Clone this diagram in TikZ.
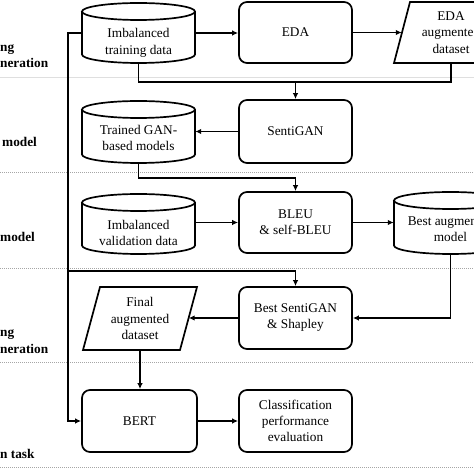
\documentclass[tikz,border=0pt]{standalone}
\usepackage{fontspec}
\setmainfont{Liberation Serif}
\usetikzlibrary{arrows.meta,calc}
\tikzset{
  boxline/.style={line width=1.7pt,draw=black,fill=white},
  rbox/.style={boxline,rounded corners=8pt,minimum width=113pt,minimum height=62pt,inner sep=0pt,align=center,font=\fontsize{13.3}{16}\selectfont},
  plainbox/.style={draw=none,inner sep=0pt,minimum width=113pt,minimum height=60pt},
  txt/.style={inner sep=0pt,align=center,font=\fontsize{13.3}{16.5}\selectfont},
  sidelbl/.style={inner sep=0pt,anchor=base west,font=\fontsize{13.3}{16}\selectfont\bfseries},
  conn/.style={line width=1.4pt,draw=black},
  arr/.style={conn,-{Latex[length=6pt,width=5.5pt]}},
  sep/.style={draw=gray!70,line width=0.6pt,dash pattern=on 1pt off 1pt},
}
\newcommand\mycyl[2]{% name, half height
  \draw[boxline] ([shift={(-56.5,#2-8.5)}]#1.center) -- ([shift={(-56.5,-#2+8.5)}]#1.center)
    arc[start angle=180,end angle=360,x radius=56.5,y radius=8.5]
    -- ([shift={(56.5,#2-8.5)}]#1.center)
    arc[start angle=0,end angle=180,x radius=56.5,y radius=8.5]
    arc[start angle=180,end angle=360,x radius=56.5,y radius=8.5];}
\newcommand\mypara[4]{% name, half width, half height, slant
  \draw[boxline] ([shift={(-#2+#4,#3)}]#1.center) -- ([shift={(#2+#4,#3)}]#1.center)
    -- ([shift={(#2-#4,-#3)}]#1.center) -- ([shift={(-#2-#4,-#3)}]#1.center) -- cycle;}
\begin{document}
\begin{tikzpicture}[x=1pt,y=1pt]
\clip (0,0) rectangle (474,474);
\fill[white] (0,0) rectangle (474,474);
% separators
\draw[draw=gray!25,line width=0.6pt] (0,397) -- (474,397);
\draw[sep] (0,302) -- (474,302);
\draw[sep] (0,206) -- (474,206);
\draw[sep] (0,112) -- (474,112);
\draw[sep] (0,7) -- (474,7);
% side labels
\node[sidelbl] (l1a) at (0,422) {ng};
\node[sidelbl] (l1b) at (0,406) {neration};
\node[sidelbl] (l2) at (2,327) {model};
\node[sidelbl] (l3) at (0,232) {model};
\node[sidelbl] (l4a) at (0,137) {ng};
\node[sidelbl] (l4b) at (0,120) {neration};
\node[sidelbl] (l5) at (0,16) {n task};
% row 1
\node[plainbox] (itd) at (138.5,441) {};
\mycyl{itd}{30}
\node[txt] (itdt) at ([yshift=-10]itd.center) {Imbalanced\\training data};
\node[rbox,minimum height=61pt] (eda) at (295.5,441.5) {EDA};
\node[plainbox,minimum width=98pt,minimum height=61pt] (edaaug) at (451,441.5) {};
\mypara{edaaug}{49}{30.5}{8}
\node[txt] (edaaugt) at (edaaug.center) {EDA\\augmented\\dataset};
% row 2
\node[rbox,minimum height=63pt] (sgan) at (295.5,342.5) {SentiGAN};
\node[plainbox,minimum height=62pt] (tgan) at (138.5,342) {};
\mycyl{tgan}{31}
\node[txt] (tgant) at ([yshift=-6]tgan.center) {Trained GAN-\\based models};
% row 3
\node[rbox,minimum height=61pt] (bleu) at (295.5,251.5) {BLEU\\\& self-BLEU};
\node[plainbox] (val) at (138.5,250) {};
\mycyl{val}{30}
\node[txt] (valt) at ([yshift=-9]val.center) {Imbalanced\\validation data};
\node[plainbox,minimum height=62pt] (bestaug) at (450.5,251) {};
\mycyl{bestaug}{31}
\node[txt] (bestaugt) at ([yshift=-6]bestaug.center) {Best augmented\\model};
% row 4
\node[rbox] (bsg) at (295.5,156) {Best SentiGAN\\\& Shapley};
\node[plainbox,minimum width=97pt,minimum height=63pt] (final) at (140,155.5) {};
\mypara{final}{48.5}{31.5}{8.5}
\node[txt] (finalt) at (final.center) {Final\\augmented\\dataset};
% row 5
\node[rbox,minimum width=115pt] (bert) at (139.5,53) {BERT};
\node[rbox] (cls) at (295.5,53) {Classification\\performance\\evaluation};
% connectors
\coordinate (vl) at (68,0);
\coordinate (m1) at (295.5,392);
\coordinate (m2) at (295.5,296);
\coordinate (m4) at (295.5,203);
\draw[arr] (itd.east) -- (itd.east -| eda.west);
\draw[arr] (eda.east) -- (eda.east -| edaaug.west);
\draw[conn] (itd.south) |- (m1);
\draw[conn] (edaaug.south) |- (m1);
\draw[arr] (m1) -- (sgan.north);
\draw[arr] (sgan.west) -- (sgan.west -| tgan.east);
\draw[conn] (tgan.south) |- (m2);
\draw[arr] (m2) -- (bleu.north);
\draw[arr] (bleu.west -| val.east) -- (bleu.west);
\draw[arr] (bleu.east) -- (bleu.east -| bestaug.west);
\draw[arr] (bestaug.south) |- (bsg.east);
\draw[arr] (itd.west) -- (itd.west -| vl) |- (bert.west);
\draw[conn] (m4 -| vl) -- (m4);
\draw[arr] (m4) -- (bsg.north);
\draw[arr] (bsg.west) -- (bsg.west -| final.east);
\draw[arr] (final.south) -- (final.south |- bert.north);
\draw[arr] (bert.east) -- (cls.west);
\end{tikzpicture}
\end{document}
